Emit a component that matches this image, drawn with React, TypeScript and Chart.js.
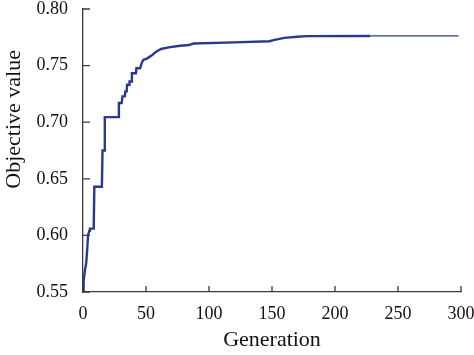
import React, { useEffect, useRef } from "react";
import { Chart, registerables } from "chart.js";

Chart.register(...registerables);

const generations = [
  0, 0.5, 1.5, 2.5, 3.5, 4, 5, 5.5, 8.5, 9, 15, 15.5, 17, 17.3, 28.3, 28.5, 30.7, 31.3, 33.2, 33.6,
  34.7, 35, 36.6, 36.9, 38.4, 38.8, 42, 42.4, 45.3, 46.5, 47.8, 51, 55, 58, 62, 68, 77, 84, 88,
  120, 148, 152, 160, 170, 178, 228, 298,
];
const objectiveValues = [
  0.55, 0.56, 0.569, 0.575, 0.59, 0.6, 0.604, 0.606, 0.606, 0.643, 0.643, 0.675, 0.675, 0.7045,
  0.7045, 0.7169, 0.7169, 0.7228, 0.7228, 0.7272, 0.7272, 0.7331, 0.7331, 0.736, 0.736, 0.7432,
  0.7432, 0.7476, 0.7476, 0.752, 0.755, 0.7564, 0.7594, 0.7623, 0.7647, 0.7661, 0.7675, 0.7682,
  0.7695, 0.7705, 0.7715, 0.7727, 0.7745, 0.7755, 0.776, 0.7762, 0.7762,
];
const xTickValues = [0, 50, 100, 150, 200, 250, 300];
const yTickValues = [0.55, 0.6, 0.65, 0.7, 0.75, 0.8];
const xTitle = "Generation";
const yTitle = "Objective value";
const thinFrom = 228;

const FONT = "'Liberation Serif', 'Times New Roman', serif";
const AXIS_COLOR = "#3a3a3a";
const LINE_COLOR = "#293a8e";

export default function App() {
  const ref = useRef<HTMLCanvasElement | null>(null);

  useEffect(() => {
    document.body.style.margin = "0";
    const canvas = ref.current;
    if (!canvas) return;

    const innerTicks = {
      id: "innerTicks",
      afterDraw(chart: any) {
        const { ctx, chartArea, scales } = chart;
        ctx.save();
        ctx.strokeStyle = AXIS_COLOR;
        ctx.lineWidth = 1.3;
        ctx.beginPath();
        for (const v of xTickValues) {
          const x = scales.x.getPixelForValue(v);
          ctx.moveTo(x, chartArea.bottom);
          ctx.lineTo(x, chartArea.bottom - 6);
        }
        for (const v of yTickValues) {
          const y = scales.y.getPixelForValue(v);
          ctx.moveTo(chartArea.left, y);
          ctx.lineTo(chartArea.left + 7, y);
        }
        ctx.stroke();
        ctx.fillStyle = "#111";
        ctx.font = `22px ${FONT}`;
        ctx.textAlign = "center";
        ctx.textBaseline = "middle";
        ctx.translate(14, chartArea.top + (chartArea.bottom - chartArea.top) * 0.39);
        ctx.rotate(-Math.PI / 2);
        ctx.fillText(yTitle, 0, 0);
        ctx.restore();
      },
    };

    const chart = new Chart(canvas, {
      type: "line",
      data: {
        datasets: [
          {
            data: generations.map((g, i) => ({ x: g, y: objectiveValues[i] })),
            borderColor: LINE_COLOR,
            borderWidth: 2.4,
            pointRadius: 0,
            tension: 0,
            fill: false,
            segment: {
              borderWidth: (c: any) => (c.p0.parsed.x >= thinFrom ? 1.3 : 2.4),
            },
          },
        ],
      },
      options: {
        animation: false,
        responsive: true,
        maintainAspectRatio: false,
        layout: { padding: { top: 9, right: 13, left: 0, bottom: 0 } },
        plugins: { legend: { display: false }, tooltip: { enabled: false } },
        scales: {
          x: {
            type: "linear",
            min: 0,
            max: 300,
            afterBuildTicks: (s: any) => {
              s.ticks = xTickValues.map((v) => ({ value: v }));
            },
            afterFit: (s: any) => {
              s.height = 63;
              s.paddingLeft = 0;
              s.paddingRight = 0;
            },
            ticks: {
              color: "#111",
              font: { family: FONT, size: 18 },
              padding: 11,
              maxRotation: 0,
            },
            grid: { drawOnChartArea: false, drawTicks: false },
            border: { color: AXIS_COLOR, width: 1.3 },
            title: {
              display: true,
              text: xTitle,
              color: "#111",
              font: { family: FONT, size: 22 },
              padding: { top: 0, bottom: 2 },
            },
          },
          y: {
            type: "linear",
            min: 0.55,
            max: 0.8,
            afterBuildTicks: (s: any) => {
              s.ticks = yTickValues.map((v) => ({ value: v }));
            },
            afterFit: (s: any) => {
              s.width = 83;
              s.paddingTop = 0;
              s.paddingBottom = 0;
            },
            ticks: {
              color: "#111",
              font: { family: FONT, size: 18 },
              padding: 15,
              callback: (v: any) => Number(v).toFixed(2),
            },
            grid: { drawOnChartArea: false, drawTicks: false },
            border: { color: AXIS_COLOR, width: 1.3 },
          },
        },
      },
      plugins: [innerTicks],
    });

    return () => chart.destroy();
  }, []);

  return (
    <div style={{ position: "absolute", left: 0, top: 0, width: 474, height: 355 }}>
      <canvas ref={ref} />
    </div>
  );
}
